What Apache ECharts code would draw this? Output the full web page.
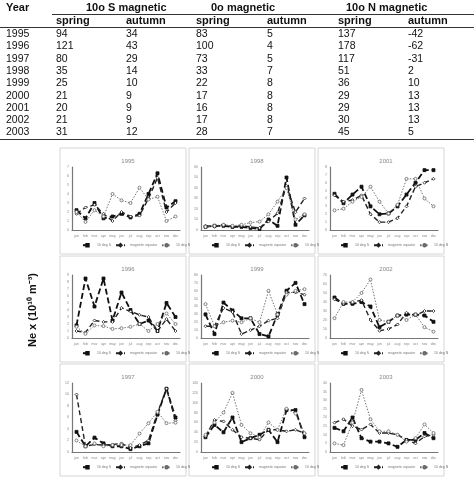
<!DOCTYPE html><html><head><meta charset="utf-8">
<script src="https://cdn.jsdelivr.net/npm/echarts@6/dist/echarts.min.js"></script>
<style>body{margin:0;background:#fff;font-family:"Liberation Sans",Arial,sans-serif}
#tbl{position:absolute;left:0;top:0;width:474px;height:142px;font-size:10.5px;color:#111}
#tbl div{position:absolute;white-space:nowrap}
.b{font-weight:bold;font-size:11px}
.ln{height:1px;background:#333}
#c{position:absolute;left:0;top:0;width:474px;height:482px}</style></head><body>
<div id="c"></div><div id="tbl"></div>
<script>
// ---- table data ----
const years=["1995","1996","1997","1998","1999","2000","2001","2002","2003"];
const sSpring=[94,121,80,35,25,21,20,21,31];
const sAutumn=[34,43,29,14,10,9,9,9,12];
const eSpring=[83,100,73,33,22,17,16,17,28];
const eAutumn=[5,4,5,7,8,8,8,8,7];
const nSpring=[137,178,117,51,36,29,29,30,45];
const nAutumn=[-42,-62,-31,2,10,13,13,13,5];
const groups=["10o S magnetic","0o magnetic","10o N magnetic"];
// ---- chart data ----
const months=["jan","feb","mar","apr","may","jun","jul","aug","sep","oct","nov","dec"];
const seriesNames=["10 deg S","magnetic equator","10 deg N"];
const panelYears=["1995","1998","2001","1996","1999","2002","1997","2000","2003"];
const panelMax=[7,60,8,9,80,70,12,140,40];
const panelStep=[1,10,1,1,10,10,2,20,5];
const s1995=[[2.2,1.3,3.0,1.3,1.5,1.8,1.4,1.8,4.0,6.3,2.5,3.2],[1.8,2.5,2.8,1.8,1.0,2.0,1.5,1.6,3.5,5.8,2.0,3.0],[2.0,0.9,2.2,1.5,4.0,3.3,3.0,4.7,3.4,3.7,1.0,1.5]];
const s1998=[[3,4,4,3,3,2,1,10,4,50,5,14],[4,3,5,3,4,3,2,8,16,42,17,30],[3,4,5,4,5,7,8,15,27,40,10,15]];
const s2001=[[4.6,3.4,4.5,5.5,3.0,2.0,2.1,3.0,4.5,6.0,7.6,7.6],[4.4,3.6,3.8,4.4,2.0,1.0,1.0,1.5,3.0,5.5,6.0,6.5],[2.5,2.7,3.6,4.2,5.5,3.6,2.1,3.2,6.5,6.5,4.0,3.0]];
const s1996=[[1.8,8.5,4.5,8.5,2.5,6.5,4.0,2.0,2.5,1.0,5.0,3.0],[1.0,0.8,2.5,2.3,2.3,4.3,3.8,3.3,3.0,1.0,2.7,1.0],[1.6,0.6,1.8,1.7,1.3,1.4,1.6,2.0,1.0,2.0,3.5,2.0]];
const s1999=[[30,5,45,35,25,25,5,2,30,60,70,43],[15,15,38,33,5,10,15,22,25,58,58,55],[43,15,20,22,20,25,20,60,30,55,60,62]];
const s2002=[[45,38,38,40,35,12,18,25,26,26,25,18],[43,38,40,42,20,8,10,15,28,25,30,30],[22,40,40,50,65,20,18,25,20,26,12,7]];
const s1997=[[3.5,1,2.5,1.5,1,1,0.5,1,1.5,6.5,11,6],[10,1,1.3,1.2,1.3,1.5,0.7,1.2,2,6.8,11,5.5],[2,1,1.5,1,1.2,1.2,1.2,3.2,5,7,5,5.1]];
const s2000=[[30,55,40,70,20,28,35,45,20,85,85,30],[32,65,62,45,30,28,25,45,45,42,45,38],[35,60,80,120,55,38,30,60,45,88,78,38]];
const s2003=[[14,12,20,8,6,6,5,3,7,7,11,8],[17,19,15,13,16,11,11,10,7,5,9,10],[5,4,17,36,19,12,12,10,6,8,16,11]];
const panelData=[s1995,s1998,s2001,s1996,s1999,s2002,s1997,s2000,s2003];

// table
const T=document.getElementById('tbl');
function put(t,x,y,cls){const d=document.createElement('div');d.textContent=t;d.style.left=x+'px';d.style.top=y+'px';if(cls)d.className=cls;T.appendChild(d);}
function line(x,y,w){const d=document.createElement('div');d.className='ln';d.style.left=x+'px';d.style.top=y+'px';d.style.width=w+'px';T.appendChild(d);}
put("Year",6,1,'b');
groups.forEach((g,i)=>put(g,[86,211,346][i],1,'b'));
line(52,14,422);
const colX=[56,126,196,267,338,408];
["spring","autumn","spring","autumn","spring","autumn"].forEach((t,i)=>put(t,colX[i],14,'b'));
line(0,27,474);
const cols=[sSpring,sAutumn,eSpring,eAutumn,nSpring,nAutumn];
years.forEach((y,r)=>{const yy=27+r*12.3;put(y,6,yy);cols.forEach((c,i)=>put(String(c[r]),colX[i],yy));});
line(0,139,474);

// charts
const colL=[60,189,318], rowT=[148,256,364], rowH=[106,106,112];
const grids=[],xA=[],yA=[],series=[],titles=[],legends=[],graphics=[];
const styles=[{type:[6,3],w:1.8,c:'#111',sym:'rect',fill:'#111'},{type:[5,3],w:1.4,c:'#222',sym:'diamond',fill:'#fff'},{type:[1.5,1.5],w:0.9,c:'#666',sym:'circle',fill:'#fff'}];
panelData.forEach((pd,k)=>{
  const c=k%3,r=Math.floor(k/3),L=colL[c],Tp=rowT[r],H=rowH[r];
  graphics.push({type:'rect',shape:{x:L,y:Tp,width:126,height:H},style:{fill:'none',stroke:'#ccc',lineWidth:0.8}});
  titles.push({text:panelYears[k],left:L+63,top:Tp+5,textAlign:'center',textStyle:{fontSize:6,color:'#888',fontWeight:'normal'}});
  grids.push({left:L+12,top:Tp+19,width:108,height:H-43});
  xA.push({type:'category',gridIndex:k,data:months,boundaryGap:true,axisTick:{show:false},axisLine:{lineStyle:{color:'#777',width:1.2}},axisLabel:{fontSize:3.5,color:'#888',interval:0,margin:4}});
  yA.push({type:'value',gridIndex:k,min:0,max:panelMax[k],interval:panelStep[k],splitLine:{show:false},axisLine:{show:true,lineStyle:{color:'#777',width:1.2}},axisTick:{show:false},axisLabel:{fontSize:3.5,color:'#888',margin:3}});
  pd.forEach((d,i)=>{const s=styles[i];series.push({type:'line',name:seriesNames[i],xAxisIndex:k,yAxisIndex:k,data:d,symbol:s.sym,symbolSize:3,lineStyle:{type:s.type,width:s.w,color:s.c},itemStyle:{color:s.fill,borderColor:s.c,borderWidth:0.8},animation:false});});
  legends.push({data:seriesNames,left:L+22,top:Tp+H-11,textStyle:{fontSize:3.5,color:'#777'},itemWidth:9,itemHeight:3,itemGap:4,padding:0,orient:'horizontal',selectedMode:false});
});
graphics.push({type:'text',x:33,y:310,rotation:Math.PI/2,style:{text:'Ne x (10¹⁰ m⁻³)',font:'bold 11px "Liberation Sans",Arial',fill:'#111',align:'center',verticalAlign:'middle'}});
const ch=echarts.init(document.getElementById('c'));
ch.setOption({animation:false,title:titles,grid:grids,xAxis:xA,yAxis:yA,series:series,legend:legends,graphic:graphics});
</script></body></html>
